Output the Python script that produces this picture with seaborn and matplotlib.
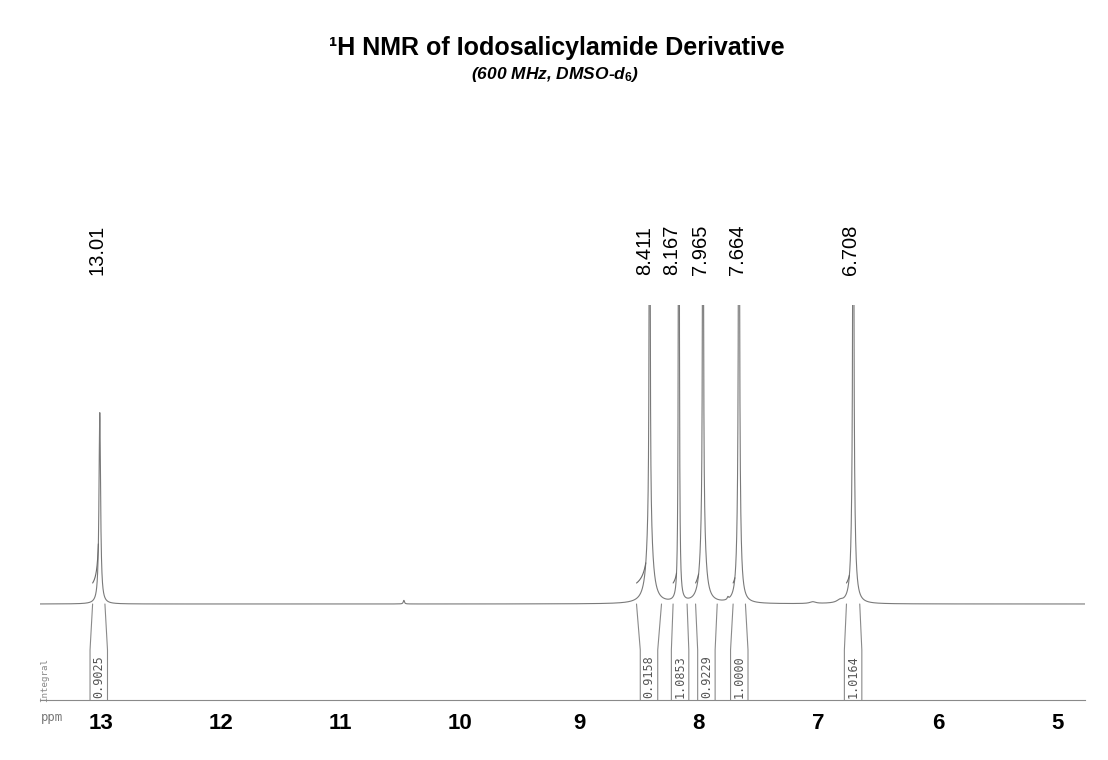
import numpy as np
import pandas as pd
import matplotlib
matplotlib.use('Agg')
import matplotlib.pyplot as plt
import seaborn as sns
from matplotlib.patches import Rectangle
from matplotlib.ticker import MultipleLocator

sns.set_style('white')
plt.rcParams['font.family'] = ['Liberation Sans', 'DejaVu Sans']
plt.rcParams['text.color'] = 'black'
plt.rcParams['xtick.color'] = 'black'
plt.rcParams['mathtext.fontset'] = 'custom'
plt.rcParams['mathtext.it'] = 'Liberation Sans:italic:bold'
plt.rcParams['mathtext.rm'] = 'Liberation Sans:bold'

# ------------------------------------------------------------
# 피크 데이터 (ppm, 높이, 반폭)
# ------------------------------------------------------------
PEAK_PPM = [13.01, 8.411, 8.167, 7.965, 7.664, 6.708]
PEAK_LABELS = ['13.01', '8.411', '8.167', '7.965', '7.664', '6.708']
LABEL_PPM = [13.03, 8.452, 8.226, 7.983, 7.674, 6.729]
NARROW_H = [0.64, 3.0, 3.0, 3.0, 3.0, 3.0]
NARROW_W = [0.008, 0.003, 0.0035, 0.003, 0.003, 0.003]
BROAD_H = [0.0, 0.27, 0.0, 0.27, 0.43, 0.44]
BROAD_W = [0.02, 0.027, 0.02, 0.023, 0.014, 0.014]

# 작은 불순물 피크
MINOR_PPM = [10.467, 7.757, 7.047, 6.82]
MINOR_H = [0.012, 0.008, 0.006, 0.008]
MINOR_W = [0.006, 0.006, 0.03, 0.03]

# 적분 구간
INT_VALUES = ['0.9025', '0.9158', '1.0853', '0.9229', '1.0000', '1.0164']
INT_LEFT = [13.07, 8.521, 8.215, 8.027, 7.713, 6.765]
INT_RIGHT = [12.967, 8.312, 8.098, 7.846, 7.610, 6.654]

TICKS = [13, 12, 11, 10, 9, 8, 7, 6, 5]

# ------------------------------------------------------------
# 스펙트럼 계산 (Lorentzian 합)
# ------------------------------------------------------------
X_LEFT, X_RIGHT = 13.51, 4.77
x = np.linspace(X_LEFT, X_RIGHT, 24000)

def lor(x0, h, g):
    return h / (1 + ((x - x0) / g) ** 2)

y = np.zeros_like(x)
for p, h, g in zip(PEAK_PPM, NARROW_H, NARROW_W):
    y += lor(p, h, g)
for p, h, g in zip(PEAK_PPM, BROAD_H, BROAD_W):
    if h > 0:
        y += lor(p, h, g)
for p, h, g in zip(MINOR_PPM, MINOR_H, MINOR_W):
    y += lor(p, h, g)

spec = pd.DataFrame({'ppm': x, 'intensity': y})

# ------------------------------------------------------------
# Figure
# ------------------------------------------------------------
W, H = 1108, 760
fig = plt.figure(figsize=(W / 100, H / 100), dpi=100)
PX = 299.0  # px per intensity unit
y_bot = -(700 - 604) / PX
y_top = (604 - 220) / PX
ax = fig.add_axes([40 / W, 60 / H, 1045 / W, 480 / H])
ax.set_xlim(X_LEFT, X_RIGHT)
ax.set_ylim(y_bot, y_top)

clip = Rectangle((X_RIGHT, -0.2), X_LEFT - X_RIGHT, 1.2, transform=ax.transData)

sns.lineplot(data=spec, x='ppm', y='intensity', ax=ax, color='#7a7a7a',
             lw=0.8, estimator=None, sort=False)
ax.lines[-1].set_clip_path(clip)

# 적분 곡선: 피크 선과 만나기 전까지만 보임
for l, r, p in zip(INT_LEFT, INT_RIGHT, PEAK_PPM):
    m = (x <= l) & (x >= r)
    cs = np.cumsum(y[m])
    iy = 0.07 + 0.8 * cs / cs[-1]
    xs, ys = x[m], y[m]
    hit = np.where((iy <= ys) | (xs <= p))[0]
    n = hit[0] if len(hit) else len(iy)
    ln, = ax.plot(xs[:n], iy[:n], color='#6a6a6a', lw=0.8)
    ln.set_clip_path(clip)

# 피크 라벨
for lx, t in zip(LABEL_PPM, PEAK_LABELS):
    ax.text(lx, 1.10, t, rotation=90, ha='center', va='bottom', fontsize=14.5,
            color='black')

# 적분 브래킷 + 값
box_w = 0.146
y_kink = -(650 - 604) / PX
for l, r, v in zip(INT_LEFT, INT_RIGHT, INT_VALUES):
    c = (l + r) / 2
    bl, br = c + box_w / 2, c - box_w / 2
    ax.plot([l, bl, bl], [0, y_kink, y_bot], color='#8a8a8a', lw=0.8, clip_on=False)
    ax.plot([r, br, br], [0, y_kink, y_bot], color='#8a8a8a', lw=0.8, clip_on=False)
    ax.text(c, y_bot + 0.008, v, rotation=90, ha='center', va='bottom',
            fontsize=8.5, family='DejaVu Sans Mono', color='#555555')

# 축 스타일
for s in ['top', 'left', 'right']:
    ax.spines[s].set_visible(False)
ax.spines['bottom'].set_color('#8a8a8a')
ax.spines['bottom'].set_linewidth(0.8)
ax.set_xticks(TICKS)
ax.set_xticklabels([str(t) for t in TICKS], fontsize=16, fontweight='bold',
                   color='black')
ax.xaxis.set_minor_locator(MultipleLocator(0.2))
ax.tick_params(axis='x', which='major', direction='out', length=3.5, width=0.8,
               color='#8a8a8a', pad=6)
ax.tick_params(axis='x', which='minor', direction='out', length=3, width=0.7,
               color='#8a8a8a')
ax.set_yticks([])
ax.set_xlabel('')
ax.set_ylabel('')

fig.text(45 / W, 1 - 702 / H, 'Integral', rotation=90, ha='center', va='bottom',
         fontsize=6.6, family='DejaVu Sans Mono', color='#888888')
fig.text(41 / W, 1 - 718 / H, 'ppm', ha='left', va='center', fontsize=8.8,
         family='DejaVu Sans Mono', color='#777777')

fig.text(0.5027, 1 - 48 / H, '¹H NMR of Iodosalicylamide Derivative',
         ha='center', va='center', fontsize=18, fontweight='bold', color='black')
fig.text(0.501, 1 - 75 / H, r'(600 MHz, DMSO-$d_6$)', ha='center', va='center',
         fontsize=12.5, fontweight='bold', style='italic', color='black')

fig.savefig('out.png', dpi=100)
